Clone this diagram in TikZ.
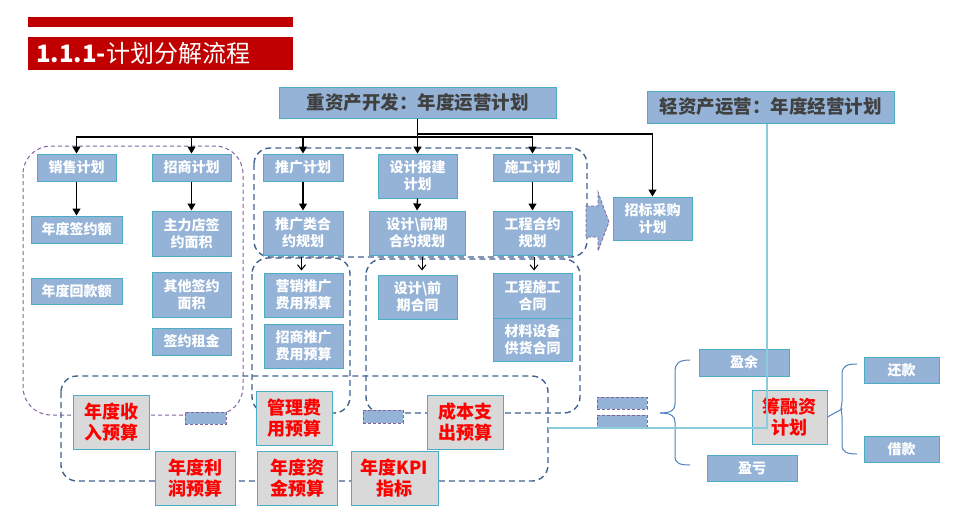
\documentclass[tikz,border=0pt]{standalone}
\usepackage{fontspec}
\setmainfont{Noto Sans CJK SC}
\usetikzlibrary{arrows.meta}
\definecolor{boxblue}{HTML}{95B3D7}
\definecolor{boxedge}{HTML}{4BACC6}
\definecolor{boxgray}{HTML}{D9D9D9}
\definecolor{titlered}{HTML}{C00000}
\definecolor{navy}{HTML}{41618F}
\definecolor{purp}{HTML}{8064A2}
\definecolor{cyanl}{HTML}{8CCBDB}
\definecolor{bracecol}{HTML}{4F81BD}
\definecolor{headtext}{HTML}{404040}
\newcommand\bx[7]{\node[#2, minimum width={(#5-#3)*1pt}, minimum height={(#6-#4)*1pt}] (#1) at ({(#3+#5)/2},{(#4+#6)/2}) {#7};}
\tikzset{
  bluebox/.style={draw=boxedge, fill=boxblue, line width=1pt, text=white, font=\bfseries\fontsize{14}{17}\selectfont, align=center, inner sep=0pt},
  graybox/.style={draw=boxedge, fill=boxgray, line width=1pt, text=red, font=\bfseries\fontsize{18}{21}\selectfont, align=center, inner sep=0pt},
  headbox/.style={draw=boxedge, fill=boxblue, line width=1pt, text=headtext, font=\bfseries\fontsize{18.5}{20}\selectfont, inner sep=0pt},
  minibox/.style={draw=purp, dash pattern=on 3pt off 2pt, fill=boxblue, line width=0.8pt},
  navydash/.style={draw=navy, dash pattern=on 6pt off 4pt, line width=1.4pt, rounded corners=16pt},
  purpdash/.style={draw=purp, dash pattern=on 4pt off 3pt, line width=1pt, rounded corners=28pt},
  arr/.style={draw=black, line width=1.3pt, -{Triangle[width=8pt,length=7pt]}},
  plain/.style={draw=black, line width=1.3pt},
  oarr/.style={draw=black, line width=1pt, -{Straight Barb[width=8pt,length=5pt]}},
  brace/.style={draw=bracecol, line width=1pt},
  cyanline/.style={draw=cyanl, line width=1.5pt}
}
\begin{document}
\begin{tikzpicture}[x=1pt,y=-1pt]
\useasboundingbox (0,0) rectangle (971,520);
% title
\fill[titlered] (28,17) rectangle (293,27);
\node[fill=titlered, text=white, inner xsep=8pt, inner ysep=0pt, minimum height=33pt, text width=249pt, anchor=north west, font=\fontsize{24}{26}\selectfont] (title) at (28,37) {{\bfseries 1.1.1-}计划分解流程};

% containers
\draw[purpdash] (23,146) rectangle (243,415);
\draw[navydash] (254,148) rectangle (587,257);
\draw[navydash] (252,258) rectangle (350,413);
\draw[navydash] (366,259) rectangle (580,413);
\draw[navydash] (61,376) rectangle (548,481);

% header boxes
\bx{main}{headbox}{279}{87}{556}{118}{重资产开发：年度运营计划}
\bx{light}{headbox}{647}{91}{894}{123}{轻资产运营：年度经营计划}

% first row
\bx{xs}{bluebox}{37}{154}{116}{181}{销售计划}
\bx{zs}{bluebox}{152}{154}{231}{181}{招商计划}
\bx{tg}{bluebox}{263}{154}{343}{181}{推广计划}
\bx{sj}{bluebox}{378}{154}{457}{198}{设计报建\\计划}
\bx{sg}{bluebox}{493}{154}{572}{181}{施工计划}
\bx{zb}{bluebox}{613}{197}{692}{240}{招标采购\\计划}

% second row
\bx{qy}{bluebox}{31}{216}{122}{243}{年度签约额}
\bx{hk}{bluebox}{31}{278}{122}{304}{年度回款额}
\bx{zl}{bluebox}{152}{211}{231}{256}{主力店签\\约面积}
\bx{qt}{bluebox}{152}{272}{231}{317}{其他签约\\面积}
\bx{zj}{bluebox}{152}{328}{231}{355}{签约租金}
\bx{tgl}{bluebox}{263}{211}{343}{255}{推广类合\\约规划}
\bx{sjq}{bluebox}{369}{211}{465}{255}{设计\textbackslash 前期\\合约规划}
\bx{gc}{bluebox}{493}{211}{572}{255}{工程合约\\规划}

% third row
\bx{yx}{bluebox}{264}{273}{343}{317}{营销推广\\费用预算}
\bx{zst}{bluebox}{264}{324}{343}{368}{招商推广\\费用预算}
\bx{sjh}{bluebox}{378}{275}{457}{319}{设计\textbackslash 前\\期合同}
\bx{gch}{bluebox}{493}{273}{572}{318}{工程施工\\合同}
\bx{cl}{bluebox}{493}{318}{572}{361}{材料设备\\供货合同}

% mini boxes
\bx{m1}{minibox}{185}{412}{226}{424}{}
\bx{m2}{minibox}{363}{410}{403}{423}{}
\bx{m3}{minibox}{597}{397}{647}{409}{}
\bx{m4}{minibox}{597}{415}{647}{428}{}

% budget boxes
\bx{sr}{graybox}{73}{395}{149}{449}{年度收\\入预算}
\bx{gl}{graybox}{256}{391}{332}{445}{管理费\\用预算}
\bx{cb}{graybox}{427}{395}{503}{449}{成本支\\出预算}
\bx{lr}{graybox}{155}{451}{235}{505}{年度利\\润预算}
\bx{zjys}{graybox}{257}{451}{337}{505}{年度资\\金预算}
\bx{kpi}{graybox}{351}{451}{438}{505}{年度KPI\\指标}

% financing
\bx{yy}{bluebox}{699}{349}{789}{376}{盈余}
\bx{yk}{bluebox}{707}{455}{797}{481}{盈亏}
\bx{rz}{graybox}{752}{390}{827}{444}{筹融资\\计划}
\bx{hkk}{bluebox}{864}{357}{939}{383}{还款}
\bx{jk}{bluebox}{864}{436}{939}{462}{借款}

% block arrow
\draw[draw=purp, dash pattern=on 3pt off 2pt, line width=0.8pt, fill=boxblue] (586,206) -- (598,206) -- (598,192) -- (609,222) -- (598,251) -- (598,237) -- (586,237) -- cycle;

% connectors from main
\coordinate (j1) at (417.5,137);
\coordinate (j2) at (417.5,134);
\draw[plain] (main.south) -- (j1);
\draw[arr] (j1) -- (sj.north);
\draw[arr] (j1) -| (xs.north);
\draw[arr] (j1) -| (zs.north);
\draw[arr] (j1) -| (tg.north);
\draw[arr] (j1) -| (sg.north);
\draw[arr] (j2) -| (zb.north);

\draw[arr] (xs.south) -- (qy.north);
\draw[arr] (zs.south) -- (zl.north);
\draw[arr] (tg.south) -- (tgl.north);
\draw[arr] (sj.south) -- (sjq.north);
\draw[arr] (sg.south) -- (gc.north);

\draw[oarr] (yx.north) ++(-2,-16) -- ++(0,14);
\draw[oarr] (sjh.north) ++(4.5,-18) -- ++(0,14);
\draw[oarr] (gch.north) ++(1.5,-16) -- ++(0,14);

% braces
\coordinate (lb) at (660,413);
\draw[brace] (690,360) .. controls (679,360) and (675,363) .. (675,372) -- (675,404) .. controls (675,410) and (671,413) .. (lb);
\draw[brace] (lb) .. controls (671,413) and (675,416) .. (675,422) -- (675,456) .. controls (675,463) and (679,465) .. (690,465);
\coordinate (rb) at (842,409);
\draw[brace] (rz.east) -- (rb);
\draw[brace] (857,364) .. controls (847,364) and (842,366) .. (842,374) -- (842,401) .. controls (842,406) and (840,409) .. (rb);
\draw[brace] (rb) .. controls (840,409) and (842,412) .. (842,417) -- (842,445) .. controls (842,452) and (847,454) .. (857,454);

% cyan line
\coordinate (cyEnd) at (548,428);
\draw[cyanline] ([xshift=-3.5pt]light.south) |- (cyEnd);
\end{tikzpicture}
\end{document}
